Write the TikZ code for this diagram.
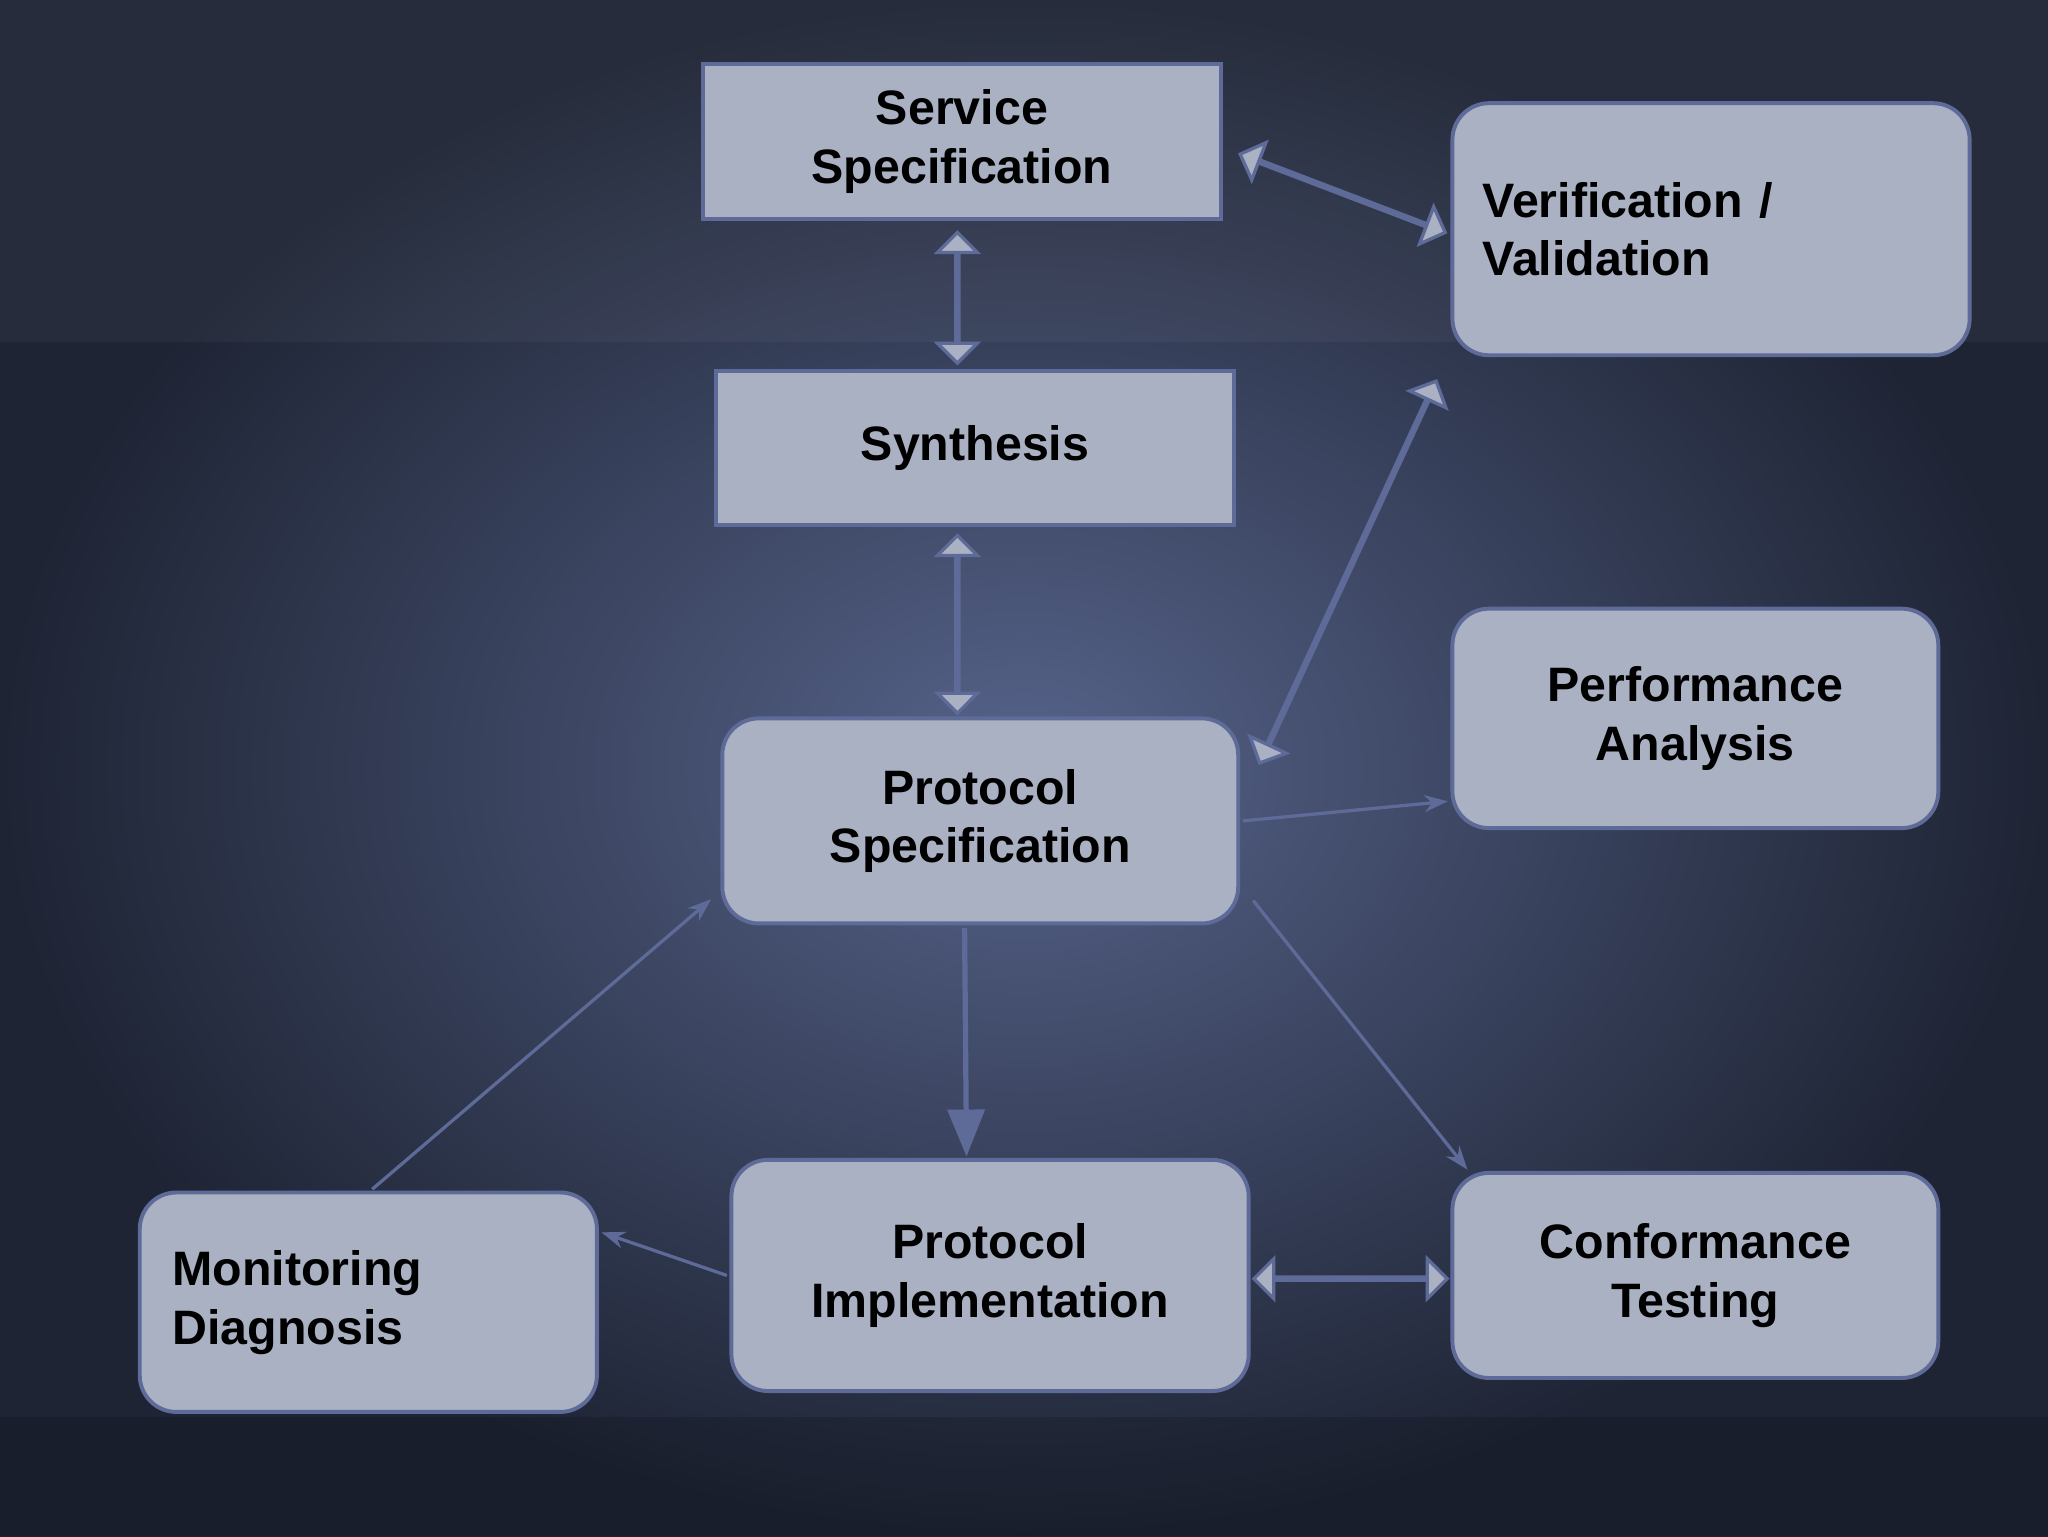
\documentclass[tikz,border=0pt]{standalone}
\usepackage{fontspec}
\setmainfont{Liberation Sans}
\usetikzlibrary{shapes.arrows,calc,arrows.meta}
\definecolor{bfill}{HTML}{AAB1C3}
\definecolor{bline}{HTML}{5E6B98}
\definecolor{bgin}{HTML}{56638A}
\definecolor{bgout}{HTML}{1E2434}
\tikzset{
  box/.style={draw=bline,fill=bfill,line width=3pt,inner sep=0pt,font=\bfseries\fontsize{37}{45}\selectfont,text=black},
  rbox/.style={box,rounded corners=28pt},
  fat/.style={double arrow,draw=bline,fill=bfill,line width=2.5pt,minimum width=24pt,double arrow head extend=14pt,double arrow head indent=0pt,inner sep=0pt},
  thin/.style={draw=bline,line width=2.5pt,-{Stealth[length=18pt,width=13pt]}}
}
\begin{document}
\begin{tikzpicture}[x=1pt,y=-1pt]
\shade[inner color=bgin,outer color=bgout] (0,0) rectangle (1568,1176);
\fill[white,opacity=0.04] (0,0) rectangle (1568,262);
\fill[black,opacity=0.15] (0,1085) rectangle (1568,1176);
\useasboundingbox (0,0) rectangle (1568,1176);

\node[box,minimum width=397pt,minimum height=119pt,align=center] (ss) at (736.5,108.5) {Service\\Specification};
\node[box,minimum width=397pt,minimum height=118pt] (sy) at (746.5,343) {Synthesis};
\node[rbox,minimum width=396pt,minimum height=193pt,text width=350pt,align=left] (vv) at (1310,175.5) {Verification /\\Validation};
\node[rbox,minimum width=395pt,minimum height=157pt,align=center] (ps) at (750.5,628.5) {Protocol\\Specification};
\node[rbox,minimum width=372pt,minimum height=168pt,align=center] (pa) at (1298,550) {Performance\\Analysis};
\node[rbox,minimum width=396pt,minimum height=177pt,align=center] (pi) at (758,976.5) {Protocol\\Implementation};
\node[rbox,minimum width=350pt,minimum height=168pt,text width=300pt,align=left] (md) at (282,997) {Monitoring\\Diagnosis};
\node[rbox,minimum width=372pt,minimum height=157pt,align=center] (ct) at (1298,976.5) {Conformance\\Testing};

\node[fat,minimum height=168pt,rotate=-20.9] (a1) at (1028,148) {};
\node[fat,minimum height=100pt,rotate=90] (a2) at (733,228) {};
\node[fat,minimum height=136pt,rotate=90] (a3) at (733,478) {};
\node[fat,minimum height=322pt,rotate=65.2] (a4) at (1032,438) {};
\node[fat,minimum height=148pt] (a5) at (1034,979) {};

\draw[thin] ($(ps.east)+(2,0)$) -- ($(pa.south west)+(-2,-22)$);
\draw[thin] ($(ps.south east)+(10,-19)$) -- ($(ct.north west)+(13,-1)$);
\draw[draw=bline,line width=4pt,-{Triangle[length=36pt,width=28pt]}] ($(ps.south)+(-12,2)$) -- ($(pi.north)+(-18,-1)$);
\draw[thin] ($(pi.west)+(-2,0)$) -- ($(md.north east)+(2,32)$);
\draw[thin] ($(md.north)+(3,-1)$) -- ($(ps.south west)+(-7,-20)$);
\end{tikzpicture}
\end{document}
